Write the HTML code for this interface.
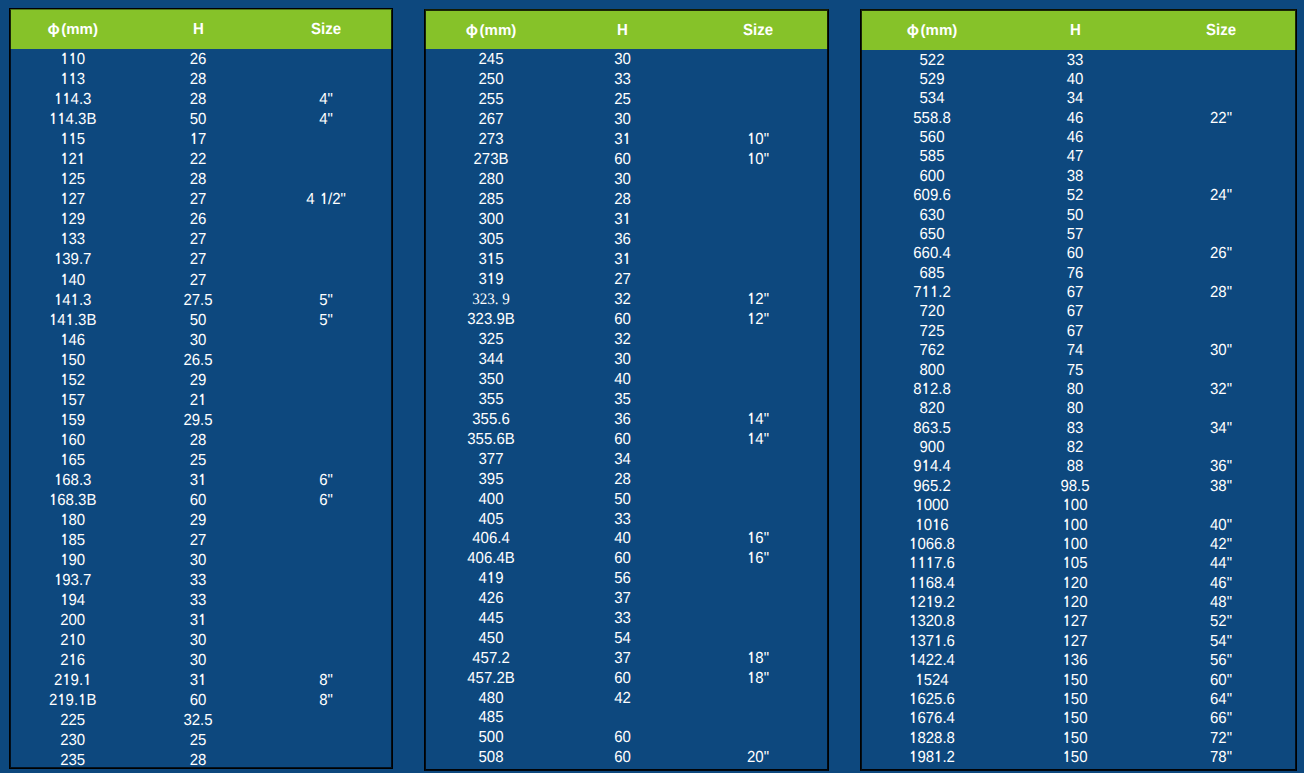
<!DOCTYPE html>
<html><head><meta charset="utf-8"><title>Table</title><style>
html,body{margin:0;padding:0}
body{width:1304px;height:773px;overflow:hidden;background:#0d487e;position:relative;font-family:"Liberation Sans",Arial,sans-serif;color:#fff;text-rendering:geometricPrecision}
.tb{position:absolute;box-sizing:border-box;border:1px solid #000;background:#0d487e}
.ib{position:absolute;box-sizing:border-box;border-style:solid}
.hd{position:absolute;background:#86c229}
.h{position:absolute;width:120px;text-align:center;font-weight:bold;font-size:15px;line-height:20px;white-space:nowrap;transform:scaleY(1.0667);transform-origin:50% 0}
.h0{transform:scaleY(1.0)}
.p{font-family:"Noto Sans CJK SC",sans-serif;margin-right:1.5px;position:relative;top:-0.5px;font-size:15px;line-height:0}
.c{position:absolute;width:120px;text-align:center;font-size:15px;line-height:20px;white-space:nowrap;transform:scaleY(1.0667);transform-origin:50% 0}
.s{font-family:"Liberation Serif",serif}
.c i{font-style:normal;display:inline-block;width:8.34px;text-align:left;font-family:NanumGothic,"Liberation Sans",sans-serif;font-weight:bold;font-size:14px}
</style></head>
<body>
<div class="tb" style="left:9px;top:8px;width:384px;height:761px;border-color:#000"></div>
<div class="hd" style="left:10px;top:9px;width:382px;height:40px"></div>
<div class="ib" style="left:10px;top:9px;width:382px;height:759px;border-width:1px 1px 1px 1px;border-color:rgba(0,0,0,0.4) rgba(0,0,0,0.8) rgba(0,0,0,0.75) rgba(0,0,0,0.8)"></div>
<div class="h h0" style="left:12.7px;top:20px"><span class="p">φ</span>(mm)</div>
<div class="h" style="left:138.5px;top:19px">H</div>
<div class="h" style="left:266px;top:19px">Size</div>
<div class="c" style="left:12.7px;top:49px"><i>1</i><i>1</i>0</div>
<div class="c" style="left:138px;top:49px">26</div>
<div class="c" style="left:12.7px;top:69px"><i>1</i><i>1</i>3</div>
<div class="c" style="left:138px;top:69px">28</div>
<div class="c" style="left:12.7px;top:89px"><i>1</i><i>1</i>4.3</div>
<div class="c" style="left:138px;top:89px">28</div>
<div class="c" style="left:266px;top:89px">4&quot;</div>
<div class="c" style="left:12.7px;top:109px"><i>1</i><i>1</i>4.3B</div>
<div class="c" style="left:138px;top:109px">50</div>
<div class="c" style="left:266px;top:109px">4&quot;</div>
<div class="c" style="left:12.7px;top:129px"><i>1</i><i>1</i>5</div>
<div class="c" style="left:138px;top:129px"><i>1</i>7</div>
<div class="c" style="left:12.7px;top:149px"><i>1</i>2<i>1</i></div>
<div class="c" style="left:138px;top:149px">22</div>
<div class="c" style="left:12.7px;top:169px"><i>1</i>25</div>
<div class="c" style="left:138px;top:169px">28</div>
<div class="c" style="left:12.7px;top:189px"><i>1</i>27</div>
<div class="c" style="left:138px;top:189px">27</div>
<div class="c" style="left:266px;top:189px">4<span style="word-spacing:1px"> </span><i>1</i>/2&quot;</div>
<div class="c" style="left:12.7px;top:209px"><i>1</i>29</div>
<div class="c" style="left:138px;top:209px">26</div>
<div class="c" style="left:12.7px;top:229px"><i>1</i>33</div>
<div class="c" style="left:138px;top:229px">27</div>
<div class="c" style="left:12.7px;top:249px"><i>1</i>39.7</div>
<div class="c" style="left:138px;top:249px">27</div>
<div class="c" style="left:12.7px;top:270px"><i>1</i>40</div>
<div class="c" style="left:138px;top:270px">27</div>
<div class="c" style="left:12.7px;top:290px"><i>1</i>4<i>1</i>.3</div>
<div class="c" style="left:138px;top:290px">27.5</div>
<div class="c" style="left:266px;top:290px">5&quot;</div>
<div class="c" style="left:12.7px;top:310px"><i>1</i>4<i>1</i>.3B</div>
<div class="c" style="left:138px;top:310px">50</div>
<div class="c" style="left:266px;top:310px">5&quot;</div>
<div class="c" style="left:12.7px;top:330px"><i>1</i>46</div>
<div class="c" style="left:138px;top:330px">30</div>
<div class="c" style="left:12.7px;top:350px"><i>1</i>50</div>
<div class="c" style="left:138px;top:350px">26.5</div>
<div class="c" style="left:12.7px;top:370px"><i>1</i>52</div>
<div class="c" style="left:138px;top:370px">29</div>
<div class="c" style="left:12.7px;top:390px"><i>1</i>57</div>
<div class="c" style="left:138px;top:390px">2<i>1</i></div>
<div class="c" style="left:12.7px;top:410px"><i>1</i>59</div>
<div class="c" style="left:138px;top:410px">29.5</div>
<div class="c" style="left:12.7px;top:430px"><i>1</i>60</div>
<div class="c" style="left:138px;top:430px">28</div>
<div class="c" style="left:12.7px;top:450px"><i>1</i>65</div>
<div class="c" style="left:138px;top:450px">25</div>
<div class="c" style="left:12.7px;top:470px"><i>1</i>68.3</div>
<div class="c" style="left:138px;top:470px">3<i>1</i></div>
<div class="c" style="left:266px;top:470px">6&quot;</div>
<div class="c" style="left:12.7px;top:490px"><i>1</i>68.3B</div>
<div class="c" style="left:138px;top:490px">60</div>
<div class="c" style="left:266px;top:490px">6&quot;</div>
<div class="c" style="left:12.7px;top:510px"><i>1</i>80</div>
<div class="c" style="left:138px;top:510px">29</div>
<div class="c" style="left:12.7px;top:530px"><i>1</i>85</div>
<div class="c" style="left:138px;top:530px">27</div>
<div class="c" style="left:12.7px;top:550px"><i>1</i>90</div>
<div class="c" style="left:138px;top:550px">30</div>
<div class="c" style="left:12.7px;top:570px"><i>1</i>93.7</div>
<div class="c" style="left:138px;top:570px">33</div>
<div class="c" style="left:12.7px;top:590px"><i>1</i>94</div>
<div class="c" style="left:138px;top:590px">33</div>
<div class="c" style="left:12.7px;top:610px">200</div>
<div class="c" style="left:138px;top:610px">3<i>1</i></div>
<div class="c" style="left:12.7px;top:630px">2<i>1</i>0</div>
<div class="c" style="left:138px;top:630px">30</div>
<div class="c" style="left:12.7px;top:650px">2<i>1</i>6</div>
<div class="c" style="left:138px;top:650px">30</div>
<div class="c" style="left:12.7px;top:670px">2<i>1</i>9.<i>1</i></div>
<div class="c" style="left:138px;top:670px">3<i>1</i></div>
<div class="c" style="left:266px;top:670px">8&quot;</div>
<div class="c" style="left:12.7px;top:690px">2<i>1</i>9.<i>1</i>B</div>
<div class="c" style="left:138px;top:690px">60</div>
<div class="c" style="left:266px;top:690px">8&quot;</div>
<div class="c" style="left:12.7px;top:710px">225</div>
<div class="c" style="left:138px;top:710px">32.5</div>
<div class="c" style="left:12.7px;top:730px">230</div>
<div class="c" style="left:138px;top:730px">25</div>
<div class="c" style="left:12.7px;top:750px">235</div>
<div class="c" style="left:138px;top:750px">28</div>
<div class="tb" style="left:424px;top:9px;width:405px;height:762px;border-color:#141a02 #000 rgba(0,0,0,0.85) #000"></div>
<div class="hd" style="left:425px;top:10px;width:403px;height:39px"></div>
<div class="ib" style="left:425px;top:10px;width:403px;height:760px;border-width:1px 1px 1px 1px;border-color:rgba(0,0,0,0.8) rgba(0,0,0,0.85) rgba(0,0,0,0.95) rgba(0,0,0,0.8)"></div>
<div class="h h0" style="left:431px;top:21px"><span class="p">φ</span>(mm)</div>
<div class="h" style="left:562.5px;top:20px">H</div>
<div class="h" style="left:698px;top:20px">Size</div>
<div class="c" style="left:431px;top:49px">245</div>
<div class="c" style="left:562.5px;top:49px">30</div>
<div class="c" style="left:431px;top:69px">250</div>
<div class="c" style="left:562.5px;top:69px">33</div>
<div class="c" style="left:431px;top:89px">255</div>
<div class="c" style="left:562.5px;top:89px">25</div>
<div class="c" style="left:431px;top:109px">267</div>
<div class="c" style="left:562.5px;top:109px">30</div>
<div class="c" style="left:431px;top:129px">273</div>
<div class="c" style="left:562.5px;top:129px">3<i>1</i></div>
<div class="c" style="left:698px;top:129px"><i>1</i>0&quot;</div>
<div class="c" style="left:431px;top:149px">273B</div>
<div class="c" style="left:562.5px;top:149px">60</div>
<div class="c" style="left:698px;top:149px"><i>1</i>0&quot;</div>
<div class="c" style="left:431px;top:169px">280</div>
<div class="c" style="left:562.5px;top:169px">30</div>
<div class="c" style="left:431px;top:189px">285</div>
<div class="c" style="left:562.5px;top:189px">28</div>
<div class="c" style="left:431px;top:209px">300</div>
<div class="c" style="left:562.5px;top:209px">3<i>1</i></div>
<div class="c" style="left:431px;top:229px">305</div>
<div class="c" style="left:562.5px;top:229px">36</div>
<div class="c" style="left:431px;top:249px">3<i>1</i>5</div>
<div class="c" style="left:562.5px;top:249px">3<i>1</i></div>
<div class="c" style="left:431px;top:269px">3<i>1</i>9</div>
<div class="c" style="left:562.5px;top:269px">27</div>
<div class="c s" style="left:431px;top:289px">323<span style="letter-spacing:3.75px">.</span>9</div>
<div class="c" style="left:562.5px;top:289px">32</div>
<div class="c" style="left:698px;top:289px"><i>1</i>2&quot;</div>
<div class="c" style="left:431px;top:309px">323.9B</div>
<div class="c" style="left:562.5px;top:309px">60</div>
<div class="c" style="left:698px;top:309px"><i>1</i>2&quot;</div>
<div class="c" style="left:431px;top:329px">325</div>
<div class="c" style="left:562.5px;top:329px">32</div>
<div class="c" style="left:431px;top:349px">344</div>
<div class="c" style="left:562.5px;top:349px">30</div>
<div class="c" style="left:431px;top:369px">350</div>
<div class="c" style="left:562.5px;top:369px">40</div>
<div class="c" style="left:431px;top:389px">355</div>
<div class="c" style="left:562.5px;top:389px">35</div>
<div class="c" style="left:431px;top:409px">355.6</div>
<div class="c" style="left:562.5px;top:409px">36</div>
<div class="c" style="left:698px;top:409px"><i>1</i>4&quot;</div>
<div class="c" style="left:431px;top:429px">355.6B</div>
<div class="c" style="left:562.5px;top:429px">60</div>
<div class="c" style="left:698px;top:429px"><i>1</i>4&quot;</div>
<div class="c" style="left:431px;top:449px">377</div>
<div class="c" style="left:562.5px;top:449px">34</div>
<div class="c" style="left:431px;top:469px">395</div>
<div class="c" style="left:562.5px;top:469px">28</div>
<div class="c" style="left:431px;top:489px">400</div>
<div class="c" style="left:562.5px;top:489px">50</div>
<div class="c" style="left:431px;top:509px">405</div>
<div class="c" style="left:562.5px;top:509px">33</div>
<div class="c" style="left:431px;top:528px">406.4</div>
<div class="c" style="left:562.5px;top:528px">40</div>
<div class="c" style="left:698px;top:528px"><i>1</i>6&quot;</div>
<div class="c" style="left:431px;top:548px">406.4B</div>
<div class="c" style="left:562.5px;top:548px">60</div>
<div class="c" style="left:698px;top:548px"><i>1</i>6&quot;</div>
<div class="c" style="left:431px;top:568px">4<i>1</i>9</div>
<div class="c" style="left:562.5px;top:568px">56</div>
<div class="c" style="left:431px;top:588px">426</div>
<div class="c" style="left:562.5px;top:588px">37</div>
<div class="c" style="left:431px;top:608px">445</div>
<div class="c" style="left:562.5px;top:608px">33</div>
<div class="c" style="left:431px;top:628px">450</div>
<div class="c" style="left:562.5px;top:628px">54</div>
<div class="c" style="left:431px;top:648px">457.2</div>
<div class="c" style="left:562.5px;top:648px">37</div>
<div class="c" style="left:698px;top:648px"><i>1</i>8&quot;</div>
<div class="c" style="left:431px;top:668px">457.2B</div>
<div class="c" style="left:562.5px;top:668px">60</div>
<div class="c" style="left:698px;top:668px"><i>1</i>8&quot;</div>
<div class="c" style="left:431px;top:688px">480</div>
<div class="c" style="left:562.5px;top:688px">42</div>
<div class="c" style="left:431px;top:707px">485</div>
<div class="c" style="left:431px;top:727px">500</div>
<div class="c" style="left:562.5px;top:727px">60</div>
<div class="c" style="left:431px;top:747px">508</div>
<div class="c" style="left:562.5px;top:747px">60</div>
<div class="c" style="left:698px;top:747px">20&quot;</div>
<div class="tb" style="left:860px;top:9px;width:437px;height:762px;border-color:#0c1002 #000 rgba(0,0,0,0.85) #000"></div>
<div class="hd" style="left:861px;top:10px;width:435px;height:40px"></div>
<div class="ib" style="left:861px;top:10px;width:435px;height:760px;border-width:1px 1px 1px 1px;border-color:rgba(0,0,0,0.8) rgba(0,0,0,0.8) rgba(0,0,0,0.95) rgba(0,0,0,0.8)"></div>
<div class="h h0" style="left:872px;top:21px"><span class="p">φ</span>(mm)</div>
<div class="h" style="left:1015.5px;top:20px">H</div>
<div class="h" style="left:1161px;top:20px">Size</div>
<div class="c" style="left:872px;top:50px">522</div>
<div class="c" style="left:1015px;top:50px">33</div>
<div class="c" style="left:872px;top:69px">529</div>
<div class="c" style="left:1015px;top:69px">40</div>
<div class="c" style="left:872px;top:88px">534</div>
<div class="c" style="left:1015px;top:88px">34</div>
<div class="c" style="left:872px;top:108px">558.8</div>
<div class="c" style="left:1015px;top:108px">46</div>
<div class="c" style="left:1161px;top:108px">22&quot;</div>
<div class="c" style="left:872px;top:127px">560</div>
<div class="c" style="left:1015px;top:127px">46</div>
<div class="c" style="left:872px;top:146px">585</div>
<div class="c" style="left:1015px;top:146px">47</div>
<div class="c" style="left:872px;top:166px">600</div>
<div class="c" style="left:1015px;top:166px">38</div>
<div class="c" style="left:872px;top:185px">609.6</div>
<div class="c" style="left:1015px;top:185px">52</div>
<div class="c" style="left:1161px;top:185px">24&quot;</div>
<div class="c" style="left:872px;top:205px">630</div>
<div class="c" style="left:1015px;top:205px">50</div>
<div class="c" style="left:872px;top:224px">650</div>
<div class="c" style="left:1015px;top:224px">57</div>
<div class="c" style="left:872px;top:243px">660.4</div>
<div class="c" style="left:1015px;top:243px">60</div>
<div class="c" style="left:1161px;top:243px">26&quot;</div>
<div class="c" style="left:872px;top:263px">685</div>
<div class="c" style="left:1015px;top:263px">76</div>
<div class="c" style="left:872px;top:282px">7<i>1</i><i>1</i>.2</div>
<div class="c" style="left:1015px;top:282px">67</div>
<div class="c" style="left:1161px;top:282px">28&quot;</div>
<div class="c" style="left:872px;top:301px">720</div>
<div class="c" style="left:1015px;top:301px">67</div>
<div class="c" style="left:872px;top:321px">725</div>
<div class="c" style="left:1015px;top:321px">67</div>
<div class="c" style="left:872px;top:340px">762</div>
<div class="c" style="left:1015px;top:340px">74</div>
<div class="c" style="left:1161px;top:340px">30&quot;</div>
<div class="c" style="left:872px;top:360px">800</div>
<div class="c" style="left:1015px;top:360px">75</div>
<div class="c" style="left:872px;top:379px">8<i>1</i>2.8</div>
<div class="c" style="left:1015px;top:379px">80</div>
<div class="c" style="left:1161px;top:379px">32&quot;</div>
<div class="c" style="left:872px;top:398px">820</div>
<div class="c" style="left:1015px;top:398px">80</div>
<div class="c" style="left:872px;top:418px">863.5</div>
<div class="c" style="left:1015px;top:418px">83</div>
<div class="c" style="left:1161px;top:418px">34&quot;</div>
<div class="c" style="left:872px;top:437px">900</div>
<div class="c" style="left:1015px;top:437px">82</div>
<div class="c" style="left:872px;top:456px">9<i>1</i>4.4</div>
<div class="c" style="left:1015px;top:456px">88</div>
<div class="c" style="left:1161px;top:456px">36&quot;</div>
<div class="c" style="left:872px;top:476px">965.2</div>
<div class="c" style="left:1015px;top:476px">98.5</div>
<div class="c" style="left:1161px;top:476px">38&quot;</div>
<div class="c" style="left:872px;top:495px"><i>1</i>000</div>
<div class="c" style="left:1015px;top:495px"><i>1</i>00</div>
<div class="c" style="left:872px;top:515px"><i>1</i>0<i>1</i>6</div>
<div class="c" style="left:1015px;top:515px"><i>1</i>00</div>
<div class="c" style="left:1161px;top:515px">40&quot;</div>
<div class="c" style="left:872px;top:534px"><i>1</i>066.8</div>
<div class="c" style="left:1015px;top:534px"><i>1</i>00</div>
<div class="c" style="left:1161px;top:534px">42&quot;</div>
<div class="c" style="left:872px;top:553px"><i>1</i><i>1</i><i>1</i>7.6</div>
<div class="c" style="left:1015px;top:553px"><i>1</i>05</div>
<div class="c" style="left:1161px;top:553px">44&quot;</div>
<div class="c" style="left:872px;top:573px"><i>1</i><i>1</i>68.4</div>
<div class="c" style="left:1015px;top:573px"><i>1</i>20</div>
<div class="c" style="left:1161px;top:573px">46&quot;</div>
<div class="c" style="left:872px;top:592px"><i>1</i>2<i>1</i>9.2</div>
<div class="c" style="left:1015px;top:592px"><i>1</i>20</div>
<div class="c" style="left:1161px;top:592px">48&quot;</div>
<div class="c" style="left:872px;top:611px"><i>1</i>320.8</div>
<div class="c" style="left:1015px;top:611px"><i>1</i>27</div>
<div class="c" style="left:1161px;top:611px">52&quot;</div>
<div class="c" style="left:872px;top:631px"><i>1</i>37<i>1</i>.6</div>
<div class="c" style="left:1015px;top:631px"><i>1</i>27</div>
<div class="c" style="left:1161px;top:631px">54&quot;</div>
<div class="c" style="left:872px;top:650px"><i>1</i>422.4</div>
<div class="c" style="left:1015px;top:650px"><i>1</i>36</div>
<div class="c" style="left:1161px;top:650px">56&quot;</div>
<div class="c" style="left:872px;top:670px"><i>1</i>524</div>
<div class="c" style="left:1015px;top:670px"><i>1</i>50</div>
<div class="c" style="left:1161px;top:670px">60&quot;</div>
<div class="c" style="left:872px;top:689px"><i>1</i>625.6</div>
<div class="c" style="left:1015px;top:689px"><i>1</i>50</div>
<div class="c" style="left:1161px;top:689px">64&quot;</div>
<div class="c" style="left:872px;top:708px"><i>1</i>676.4</div>
<div class="c" style="left:1015px;top:708px"><i>1</i>50</div>
<div class="c" style="left:1161px;top:708px">66&quot;</div>
<div class="c" style="left:872px;top:728px"><i>1</i>828.8</div>
<div class="c" style="left:1015px;top:728px"><i>1</i>50</div>
<div class="c" style="left:1161px;top:728px">72&quot;</div>
<div class="c" style="left:872px;top:747px"><i>1</i>98<i>1</i>.2</div>
<div class="c" style="left:1015px;top:747px"><i>1</i>50</div>
<div class="c" style="left:1161px;top:747px">78&quot;</div>
</body></html>
